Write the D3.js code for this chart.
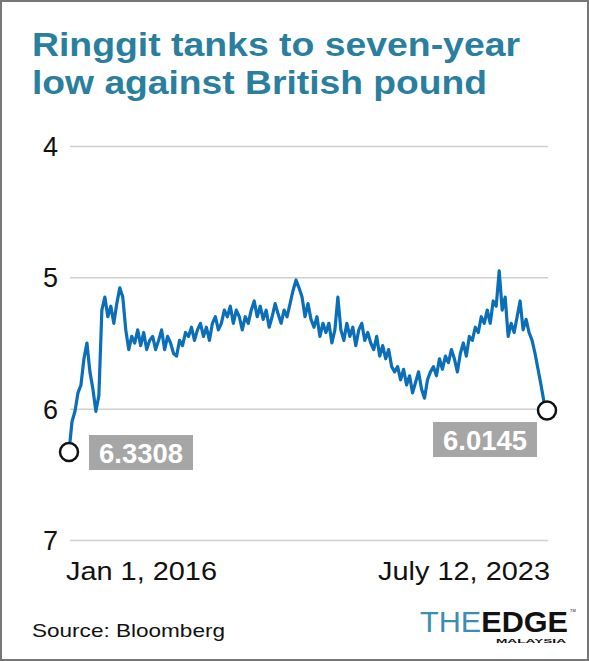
<!DOCTYPE html>
<html><head><meta charset="utf-8">
<script src="https://cdn.jsdelivr.net/npm/d3@7"></script>
<style>body{margin:0;background:#fff}svg{display:block}</style>
</head><body>
<script>
const startDate = "2016-01-01", endDate = "2023-07-12";
const yTicks = [4, 5, 6, 7];
const values = [6.33,6.10,6.02,5.88,5.82,5.62,5.50,5.72,5.85,6.02,5.90,5.25,5.15,5.30,5.22,5.35,5.20,5.08,5.15,5.40,5.55,5.45,5.50,5.40,5.52,5.42,5.55,5.48,5.45,5.55,5.48,5.40,5.55,5.45,5.50,5.58,5.60,5.48,5.52,5.42,5.45,5.38,5.48,5.40,5.35,5.45,5.38,5.48,5.35,5.30,5.40,5.35,5.25,5.30,5.22,5.35,5.25,5.30,5.40,5.30,5.35,5.25,5.18,5.30,5.22,5.32,5.25,5.38,5.30,5.20,5.28,5.35,5.25,5.30,5.20,5.10,5.02,5.08,5.15,5.30,5.20,5.32,5.38,5.30,5.45,5.35,5.42,5.35,5.50,5.40,5.15,5.40,5.48,5.35,5.45,5.38,5.52,5.40,5.35,5.48,5.42,5.50,5.55,5.45,5.60,5.52,5.62,5.55,5.68,5.72,5.68,5.78,5.70,5.82,5.75,5.88,5.80,5.72,5.85,5.92,5.78,5.72,5.68,5.75,5.62,5.70,5.60,5.65,5.55,5.62,5.72,5.58,5.50,5.60,5.45,5.48,5.38,5.42,5.30,5.35,5.25,5.35,5.18,5.22,4.95,5.25,5.15,5.45,5.35,5.42,5.30,5.18,5.40,5.32,5.42,5.48,5.58,5.70,5.82,5.95,6.0145];
const startLabel = "6.3308", endLabel = "6.0145";
const xLabels = ["Jan 1, 2016", "July 12, 2023"];

const W = 589, H = 661;
const svg = d3.select("body").append("svg").attr("width", W).attr("height", H);
svg.append("rect").attr("x",1).attr("y",1).attr("width",W-2).attr("height",H-2).attr("fill","#fff").attr("stroke","#777").attr("stroke-width",2);
const F = "'Liberation Sans', Arial, sans-serif";

function txt(xp, yp, s, size, opts={}){
  const t = svg.append("text").attr("x",xp).attr("y",yp).attr("font-family",F).attr("font-size",size).attr("fill",opts.fill||"#111").text(s);
  if (opts.weight) t.attr("font-weight",opts.weight);
  if (opts.len) t.attr("textLength",opts.len).attr("lengthAdjust","spacingAndGlyphs");
  if (opts.anchor) t.attr("text-anchor",opts.anchor);
  return t;
}
txt(32,56,"Ringgit tanks to seven-year",33,{weight:"bold",fill:"#2a7f9f",len:488});
txt(32,94,"low against British pound",33,{weight:"bold",fill:"#2a7f9f",len:455});

const t0 = new Date(startDate), t1 = new Date(endDate);
const dates = values.map((v,i)=> new Date(+t0 + (t1 - t0) * i/(values.length-1)));
const x = d3.scaleTime().domain([t0,t1]).range([69,547]);
const y = d3.scaleLinear().domain([4,7]).range([146,540]);

const yAxis = svg.append("g").attr("transform","translate(70,0)").call(d3.axisLeft(y).tickValues(yTicks).tickSize(-478).tickPadding(10).tickFormat(d3.format("d")));
yAxis.select(".domain").remove();
yAxis.selectAll("line").attr("stroke","#cfcfcf").attr("stroke-width",1.5);
yAxis.selectAll("text").attr("font-family",F).attr("font-size",27).attr("fill","#111").attr("dy","0.35em").attr("x",-12);

svg.append("path").datum(values).attr("fill","none").attr("stroke","#0a6fb8").attr("stroke-width",3.2).attr("stroke-linejoin","round")
  .attr("d", d3.line().x((d,i)=>x(dates[i])).y(d=>y(d)));

function box(bx, by, s){
  svg.append("rect").attr("x",bx).attr("y",by).attr("width",104).attr("height",35).attr("fill","#a6a6a6");
  txt(bx+52,by+28,s,27,{fill:"#fff",weight:"bold",anchor:"middle",len:84});
}
box(89, 435, startLabel);
box(433, 422, endLabel);
[0, values.length-1].forEach(i=>{
  svg.append("circle").attr("cx",x(dates[i])).attr("cy",y(values[i])).attr("r",9).attr("fill","#fff").attr("stroke","#111").attr("stroke-width",2.5);
});

txt(66,580,xLabels[0],25,{len:151});
txt(550,580,xLabels[1],25,{anchor:"end",len:172});
txt(32,637,"Source: Bloomberg",19,{len:193});

const logo = svg.append("text").attr("x",420).attr("y",632).attr("font-family",F).attr("font-size",30);
logo.append("tspan").attr("fill","#3a8fb0").attr("font-weight","300").text("THE");
logo.append("tspan").attr("fill","#111").attr("font-weight","900").text("EDGE");
logo.attr("textLength",148).attr("lengthAdjust","spacingAndGlyphs");
txt(570,612,"TM",4);
txt(496,643,"MALAYSIA",5,{weight:"bold",len:70});
</script>
</body></html>
